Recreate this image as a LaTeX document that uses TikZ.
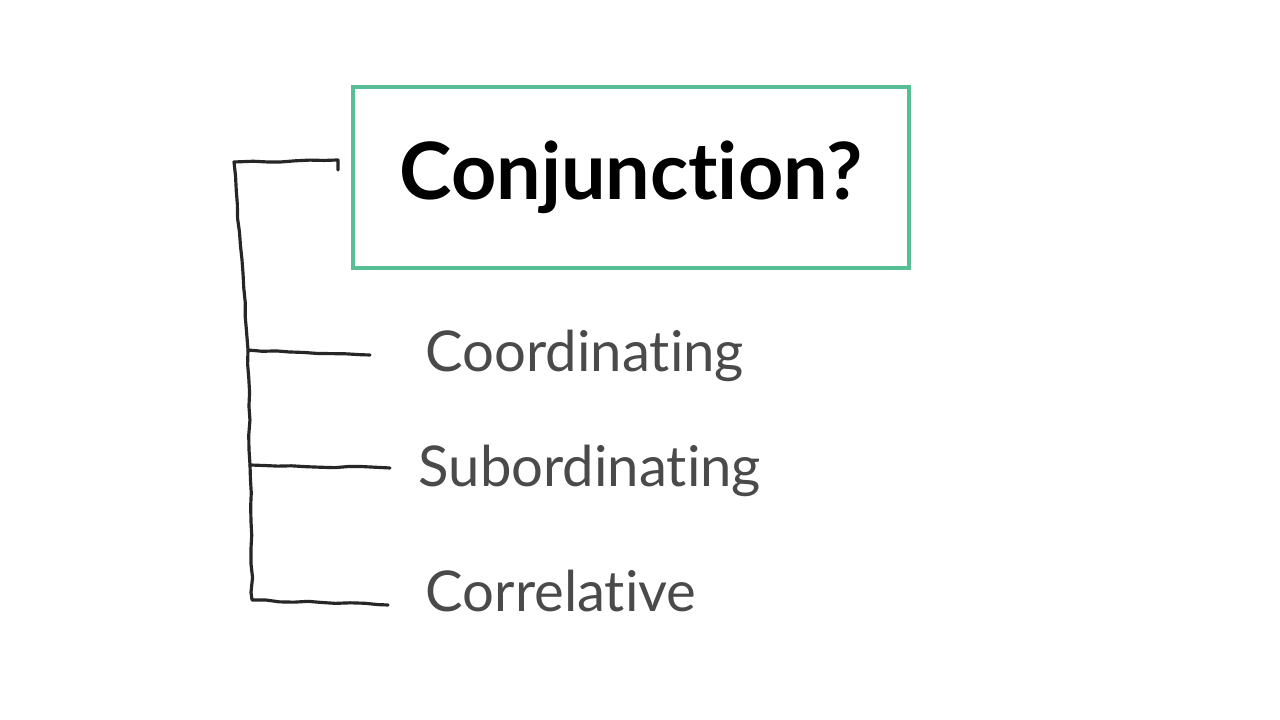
\documentclass[tikz,border=0pt]{standalone}
\usepackage{fontspec}
\setmainfont{Lato}[Ligatures={NoCommon}]
\usetikzlibrary{decorations.pathmorphing, calc}
\definecolor{boxgreen}{RGB}{88,190,150}
\definecolor{labelgray}{RGB}{74,74,74}
\tikzset{
 sketch/.style={black!85, line width=0.9pt, line cap=round, line join=round,
  decorate, decoration={random steps, segment length=4pt, amplitude=0.25pt}},
 titlebox/.style={draw=boxgreen, line width=1pt, minimum width=5.56cm, minimum height=1.81cm, inner sep=0pt},
 kind/.style={anchor=base west, inner sep=0pt, text=labelgray, font=\fontsize{16}{19}\selectfont}
}
\begin{document}
\begin{tikzpicture}
 \pgfmathsetseed{7}
 \useasboundingbox[fill=white] (0,0) rectangle (12.8,7.2);
 % Khung tiêu đề
 \node[titlebox, font=\fontsize{22.5}{27}\selectfont\bfseries] (title) at (6.31,5.425) {Conjunction?};
 % Ba loại
 \node[kind] (coord) at (4.25,3.48) {Coordinating};
 \node[kind] (subord) at (4.18,2.33) {Subordinating};
 \node[kind] (correl) at (4.25,1.08) {Correlative};
 % Các điểm trên thân ngoặc
 \coordinate (hook) at (3.38,5.50);
 \coordinate (top) at (2.34,5.58);
 \coordinate (t1) at (2.48,3.70);
 \coordinate (t2) at (2.50,2.55);
 \coordinate (t3) at (2.52,1.20);
 % Ngoặc vẽ tay
 \draw[sketch] (hook) -- ++(0,0.1) -- (top) -- (t1) -- (t2) -- (t3) -- ($(t3 -| correl.west)+(-0.37,-0.05)$);
 \draw[sketch] (t1) -- ($(t1 -| coord.west)+(-0.55,-0.05)$);
 \draw[sketch] (t2) -- ($(t2 -| subord.west)+(-0.28,-0.03)$);
\end{tikzpicture}
\end{document}
